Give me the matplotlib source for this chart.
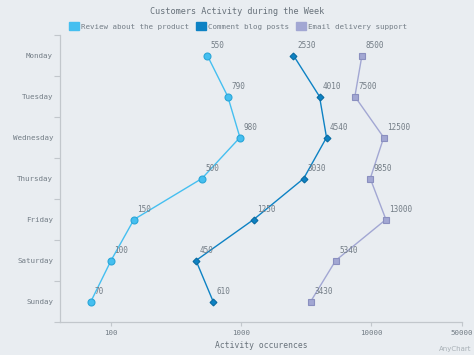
import matplotlib
matplotlib.use("Agg")
import matplotlib.pyplot as plt
from matplotlib.ticker import FixedLocator

days = ["Monday", "Tuesday", "Wednesday", "Thursday", "Friday", "Saturday", "Sunday"]
review = [550, 790, 980, 500, 150, 100, 70]
comment = [2530, 4010, 4540, 3030, 1250, 450, 610]
email = [8500, 7500, 12500, 9850, 13000, 5340, 3430]
series_names = ["Review about the product", "Comment blog posts", "Email delivery support"]
xticks = [100, 1000, 10000, 50000]

bg = "#e9edf1"
txt = "#737d86"
plt.rcParams['font.family'] = ['DejaVu Sans Mono']

fig = plt.figure(figsize=(4.74, 3.55), dpi=100, facecolor=bg)
ax = fig.add_axes([60/474, 33/355, 402/474, 287/355], facecolor=bg)

styles = [
    dict(color="#45bff0", marker="o", ms=5, mec="#2aa6d8", mfc="#45bff0"),
    dict(color="#0d82c4", marker="D", ms=3.5, mec="#0a6aa0", mfc="#0d82c4"),
    dict(color="#a2a7d3", marker="s", ms=4.5, mec="#8a8fbf", mfc="#a2a7d3"),
]
ypos = list(range(len(days)))
handles = []
for vals, st, name in zip([review, comment, email], styles, series_names):
    ax.plot(vals, ypos, lw=1, color=st["color"], marker=st["marker"], ms=st["ms"],
            mec=st["mec"], mfc=st["mfc"], mew=0.8, zorder=3)
    for v, y in zip(vals, ypos):
        ax.annotate(str(v), (v, y), xytext=(2.5, 4), textcoords="offset points",
                    fontsize=5.5, color=txt, ha="left", va="bottom")
    handles.append(plt.Rectangle((0, 0), 1, 1, color=st["color"]))

ax.set_xscale("log")
ax.set_xlim(40.5, 50000)
ax.set_ylim(6.5, -0.5)
ax.xaxis.set_major_locator(FixedLocator(xticks))
ax.xaxis.set_minor_locator(FixedLocator([]))
ax.set_xticklabels([str(t) for t in xticks])
ax.set_yticks(ypos)
ax.set_yticklabels(days)
ax.yaxis.set_minor_locator(FixedLocator([i - 0.5 for i in range(len(days) + 1)]))
ax.tick_params(axis="y", which="major", length=0, pad=5, labelsize=5.4, labelcolor=txt)
ax.tick_params(axis="y", which="minor", length=4, color="#c2c7cc", width=0.8)
ax.tick_params(axis="x", which="major", length=3, color="#c2c7cc", labelsize=5.4, labelcolor=txt, pad=3)
for s in ["top", "right"]:
    ax.spines[s].set_visible(False)
for s in ["left", "bottom"]:
    ax.spines[s].set_color("#c2c7cc")
    ax.spines[s].set_linewidth(0.9)
ax.set_xlabel("Activity occurences", fontsize=5.8, color="#67717a", labelpad=3)

fig.text(0.5, 1 - 11/355, "Customers Activity during the Week", ha="center", va="center",
         fontsize=6.1, color="#67717a")
fig.legend(handles, series_names, loc="center", bbox_to_anchor=(238/474, 1 - 26/355), ncol=3,
           frameon=False, fontsize=5.4, labelcolor=txt, handlelength=1.3, handleheight=1.3,
           handletextpad=0.3, columnspacing=0.9)
fig.text(0.995, 6/355, "AnyChart", ha="right", va="center", fontsize=5, color="#a8b0b6",
         family="DejaVu Sans")

fig.savefig("out.png", dpi=100, facecolor=bg)
